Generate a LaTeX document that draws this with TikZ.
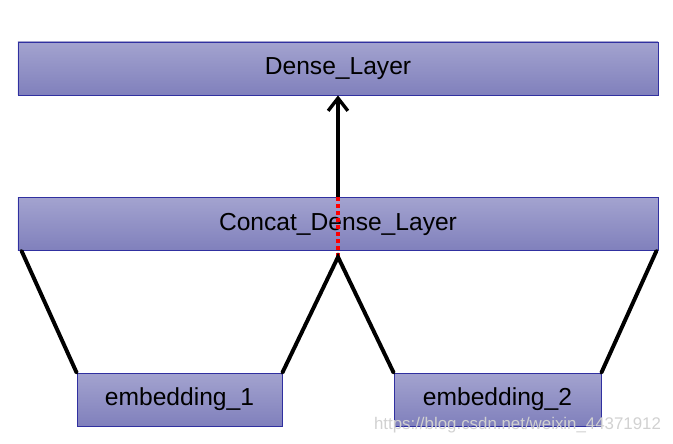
\documentclass[tikz,border=0pt]{standalone}
\usepackage{fontspec}
\setmainfont{Liberation Sans}
\usetikzlibrary{arrows.meta}
\definecolor{layertop}{HTML}{A3A3CF}
\definecolor{layerbot}{HTML}{8080BC}
\definecolor{layerline}{HTML}{3030A0}
\begin{document}
\begin{tikzpicture}[font=\fontsize{17.5}{20}\selectfont,
  layerbox/.style={draw=layerline, line width=0.6pt, top color=layertop, bottom color=layerbot,
    minimum height=1.325cm, inner sep=0pt},
  link/.style={line width=2.8pt, line cap=round}]
  \useasboundingbox (0,0) rectangle (16.825,11.075);
  \node[layerbox, minimum width=16cm] (dense) at (8.45,9.3625) {Dense\_Layer};
  \node[layerbox, minimum width=16cm] (concat) at (8.45,5.475) {Concat\_Dense\_Layer};
  \node[layerbox, minimum width=5.125cm] (emb1) at (4.4875,1.0875) {embedding\_1};
  \node[layerbox, minimum width=5.175cm] (emb2) at (12.4375,1.0875) {embedding\_2};
  \coordinate (apex) at (8.45,4.65);
  % arrow into the dense layer
  \draw[line width=2.4pt, -{Straight Barb[length=9pt, width=14pt, line width=2.4pt]}] (concat.north) -- (dense.south);
  \draw[red, line width=2.2pt, dash pattern=on 2.5pt off 2.5pt] (concat.north) -- ([yshift=-0.1cm]apex);
  % connectors to the embeddings
  \draw[link] ([xshift=0.1cm]concat.south west) -- (emb1.north west);
  \draw[link] (emb1.north east) -- (apex) -- (emb2.north west);
  \draw[link] (emb2.north east) -- ([xshift=-0.05cm]concat.south east);
  \node[anchor=east, text=black!18, font=\fontsize{12}{14}\selectfont] (mark) at (16.65,0.45) {https://blog.csdn.net/weixin\_44371912};
\end{tikzpicture}
\end{document}
